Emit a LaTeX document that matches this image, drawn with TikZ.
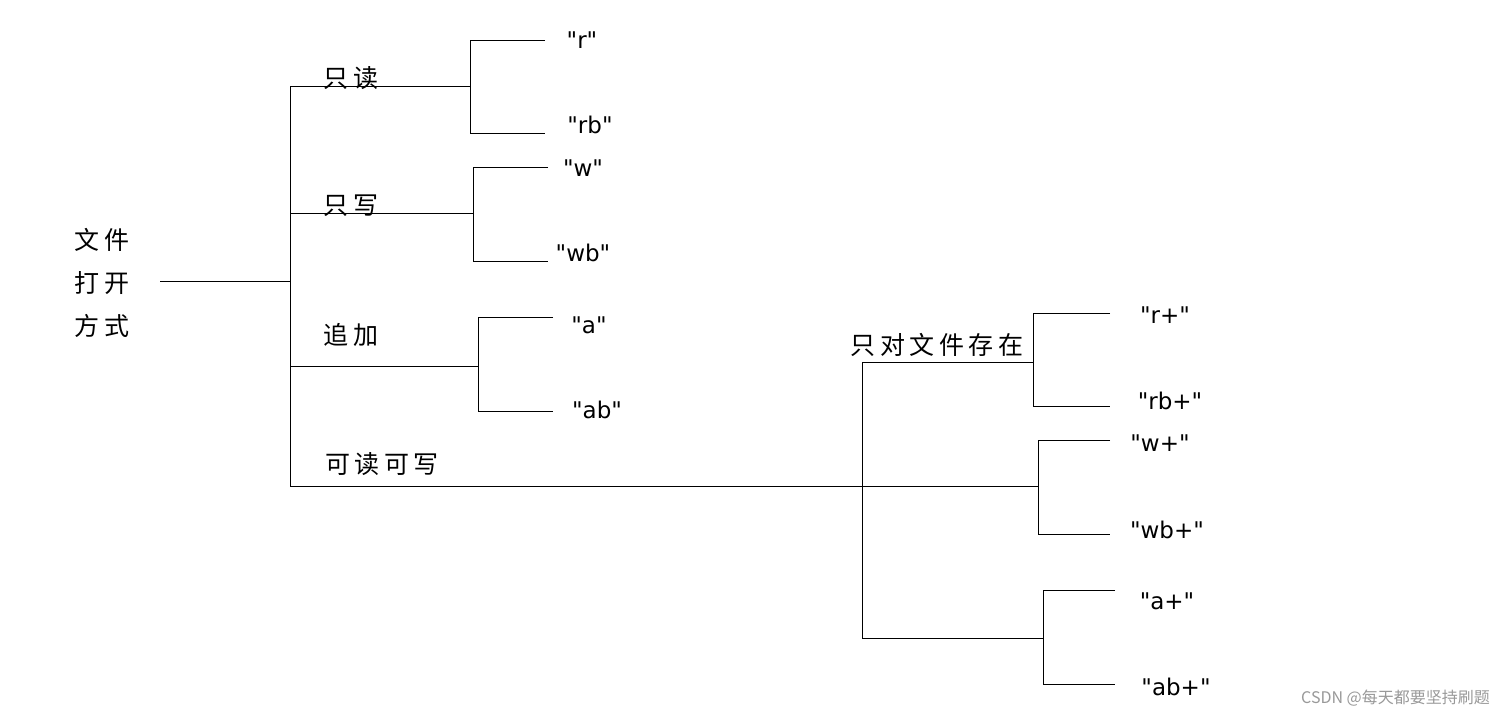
\documentclass[tikz,border=0pt]{standalone}
\usepackage{fontspec}
\setmainfont{DejaVu Sans}
\newfontfamily\qf{DejaVu Sans}
\newfontfamily\cjk[LetterSpace=18]{Noto Sans CJK SC}
\newfontfamily\cjkw{Noto Sans CJK SC}
\newcommand{\q}{\symbol{34}}
\begin{document}
\begin{tikzpicture}[x=1pt,y=-1pt,
  ln/.style={draw=black,line width=0.9pt},
  cn/.style={font=\cjk\fontsize{25}{43}\selectfont,inner sep=0},
  qn/.style={font=\qf\fontsize{23}{28}\selectfont,inner sep=0}]
\useasboundingbox[fill=white] (0,0) rectangle (1503,717);
% root
\node[cn,align=left] (root) at (102,283) {文件\\打开\\方式};
\coordinate (r0) at (160,281);
\coordinate (r1) at (290,281);
\draw[ln] (r0) -- (r1);
\coordinate (vt) at (290,86); \coordinate (vb) at (290,486);
\draw[ln] (vt) -- (vb);
% read only
\node[cn] (ro) at (351,78) {只读};
\coordinate (a1) at (470,86);
\draw[ln] (vt) -- (a1);
\coordinate (a1t) at (470,40); \coordinate (a1b) at (470,133);
\coordinate (a1te) at (545,40); \coordinate (a1be) at (545,133);
\draw[ln] (a1te) -- (a1t) -- (a1b) -- (a1be);
\node[qn] (r) at (582,40) {\q r\q};
\node[qn] (rb) at (590,125) {\q rb\q};
% write only
\node[cn] (wo) at (351,206) {只写};
\coordinate (b0) at (290,213); \coordinate (b1) at (473,213);
\draw[ln] (b0) -- (b1);
\coordinate (b1t) at (473,167); \coordinate (b1b) at (473,261);
\coordinate (b1te) at (548,167); \coordinate (b1be) at (548,261);
\draw[ln] (b1te) -- (b1t) -- (b1b) -- (b1be);
\node[qn] (w) at (583,168) {\q w\q};
\node[qn] (wb) at (583,253) {\q wb\q};
% append
\node[cn] (ap) at (351,335) {追加};
\coordinate (c0) at (290,366); \coordinate (c1) at (478,366);
\draw[ln] (c0) -- (c1);
\coordinate (c1t) at (478,317); \coordinate (c1b) at (478,411);
\coordinate (c1te) at (553,317); \coordinate (c1be) at (553,411);
\draw[ln] (c1te) -- (c1t) -- (c1b) -- (c1be);
\node[qn] (a) at (589,325) {\q a\q};
\node[qn] (ab) at (597,410) {\q ab\q};
% read write
\node[cn] (rw) at (382,464) {可读可写};
\coordinate (d1) at (1038,486);
\draw[ln] (vb) -- (d1);
\coordinate (e0) at (862,362); \coordinate (e1) at (862,638);
\draw[ln] (e0) -- (e1);
\node[cn] (ex) at (937,345) {只对文件存在};
\coordinate (f1) at (1033,362);
\draw[ln] (e0) -- (f1);
\coordinate (f1t) at (1033,313); \coordinate (f1b) at (1033,406);
\coordinate (f1te) at (1110,313); \coordinate (f1be) at (1110,406);
\draw[ln] (f1te) -- (f1t) -- (f1b) -- (f1be);
\node[qn] (rp) at (1165,315) {\q r+\q};
\node[qn] (rbp) at (1170,401) {\q rb+\q};
\coordinate (d1t) at (1038,440); \coordinate (d1b) at (1038,534);
\coordinate (d1te) at (1110,440); \coordinate (d1be) at (1110,534);
\draw[ln] (d1te) -- (d1t) -- (d1b) -- (d1be);
\node[qn] (wp) at (1160,443) {\q w+\q};
\node[qn] (wbp) at (1167,530) {\q wb+\q};
\coordinate (g1) at (1043,638);
\draw[ln] (e1) -- (g1);
\coordinate (g1t) at (1043,590); \coordinate (g1b) at (1043,684);
\coordinate (g1te) at (1115,590); \coordinate (g1be) at (1115,684);
\draw[ln] (g1te) -- (g1t) -- (g1b) -- (g1be);
\node[qn] (ap2) at (1167,601) {\q a+\q};
\node[qn] (abp) at (1176,687) {\q ab+\q};
% watermark
\node[font=\cjkw\fontsize{16}{18}\selectfont,text=gray!80,anchor=east,inner sep=0] (wm) at (1490,698) {CSDN @每天都要坚持刷题};
\end{tikzpicture}
\end{document}
